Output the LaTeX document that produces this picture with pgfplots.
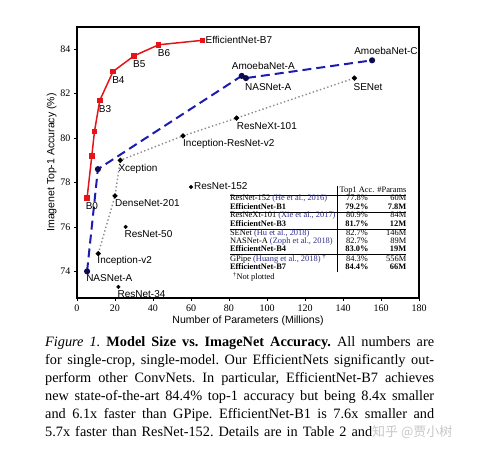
\documentclass[border=0pt]{standalone}
\usepackage{pgfplots}
\pgfplotsset{compat=1.18}
\usepackage{fontspec}
\setmainfont{Liberation Serif}
\setsansfont{Liberation Sans}
\newfontfamily\cjk{Noto Sans CJK SC}
\definecolor{effred}{RGB}{228,20,24}
\definecolor{navy}{RGB}{28,28,175}
\definecolor{navymark}{RGB}{12,12,80}
\definecolor{citeblue}{RGB}{45,45,140}
\newcommand{\lblfont}{\sffamily\fontsize{10}{12}\selectfont}
\newcommand{\lab}[5]{\node[anchor=west,inner sep=0,font=\lblfont,xshift=#3,yshift=#4] at (axis cs:#1,#2) {#5};}
\frenchspacing
\begin{document}
\begin{tikzpicture}[x=1pt,y=1pt]
\path[use as bounding box] (-77,-158) rectangle (400,298);
\begin{axis}[
  at={(0,0)}, anchor=south west,
  scale only axis, width=342pt, height=271pt,
  xmin=0, xmax=180, ymin=72.8, ymax=85,
  xtick={0,20,...,180}, ytick={74,76,...,84},
  tick align=outside, xtick pos=bottom, ytick pos=left,
  major tick length=3pt,
  axis line style={line width=1.1pt},
  every tick/.style={black, line width=0.8pt},
  tick label style={font=\rmfamily\fontsize{10}{12}\selectfont},
  /pgf/number format/assume math mode=true,
  xlabel={Number of Parameters (Millions)},
  ylabel={Imagenet Top-1 Accuracy (\%)},
  label style={font=\sffamily\fontsize{10.5}{12}\selectfont},
  xlabel style={yshift=2pt},
  ylabel style={yshift=-3pt},
  clip=false,
]
\addplot[black!45, line width=1.4pt, dash pattern=on 1.4pt off 2.4pt, mark=*, mark size=1.8pt, mark options={solid, black}]
  coordinates {(11.2,74.8)(20,77.4)(22.8,79.0)(55.8,80.1)(84,80.9)(146,82.7)};
\addplot[only marks, mark=*, mark size=1.8pt, black]
  coordinates {(60,77.8)(25.6,76.0)(21.8,73.3)};
\addplot[navy, line width=2pt, dash pattern=on 9pt off 5pt, mark=*, mark size=2pt, mark options={solid, fill=navymark, draw=navymark}]
  coordinates {(5.3,74.0)(11,78.6)(86.7,82.8)(88.9,82.7)(155.3,83.5)};
\addplot[effred, line width=1.5pt, mark=square*, mark size=2pt]
  coordinates {(5.3,77.3)(7.8,79.2)(9.2,80.3)(12,81.7)(19,83.0)(30,83.7)(43,84.2)(66,84.4)};

\lab{66}{84.4}{3pt}{0pt}{EfficientNet-B7}
\lab{43}{84.2}{-1pt}{-8.5pt}{B6}
\lab{30}{83.7}{-1pt}{-8.5pt}{B5}
\lab{19}{83.0}{-1pt}{-8.5pt}{B4}
\lab{12}{81.7}{-1pt}{-8.5pt}{B3}
\lab{5.3}{77.3}{-1.5pt}{-8.5pt}{B0}
\lab{155.3}{83.5}{-18pt}{9pt}{AmoebaNet-C}
\lab{86.7}{82.8}{-10pt}{10pt}{AmoebaNet-A}
\lab{88.9}{82.7}{-1pt}{-8.5pt}{NASNet-A}
\lab{146}{82.7}{-1pt}{-8.5pt}{SENet}
\lab{84}{80.9}{0pt}{-8.4pt}{ResNeXt-101}
\lab{55.8}{80.1}{0pt}{-7.7pt}{Inception-ResNet-v2}
\lab{22.8}{79.0}{-2pt}{-8.4pt}{Xception}
\lab{20}{77.4}{0pt}{-7.5pt}{DenseNet-201}
\lab{25.6}{76.0}{-1.3pt}{-7pt}{ResNet-50}
\lab{11.2}{74.8}{-1pt}{-7pt}{Inception-v2}
\lab{5.3}{74.0}{-1pt}{-6.5pt}{NASNet-A}
\lab{21.8}{73.3}{-1pt}{-7.6pt}{ResNet-34}
\lab{60}{77.8}{3pt}{1pt}{ResNet-152}

\node[anchor=north west, inner sep=0, font=\rmfamily\fontsize{8.4}{8.3}\selectfont] at (rel axis cs:0.447,0.413) {%
\setlength{\tabcolsep}{2pt}\renewcommand{\arraystretch}{1}%
\begin{tabular}{@{}l|c@{\hspace{3pt}}r@{}}
 & Top1 Acc. & \#Params\\ \hline
ResNet-152 {\color{citeblue}(He et al., 2016)} & 77.8\% & 60M\\
\textbf{EfficientNet-B1} & \textbf{79.2\%} & \textbf{7.8M}\\ \hline
ResNeXt-101 {\color{citeblue}(Xie et al., 2017)} & 80.9\% & 84M\\
\textbf{EfficientNet-B3} & \textbf{81.7\%} & \textbf{12M}\\ \hline
SENet {\color{citeblue}(Hu et al., 2018)} & 82.7\% & 146M\\
NASNet-A {\color{citeblue}(Zoph et al., 2018)} & 82.7\% & 89M\\
\textbf{EfficientNet-B4} & \textbf{83.0\%} & \textbf{19M}\\ \hline
GPipe {\color{citeblue}(Huang et al., 2018)} \textsuperscript{\textdagger} & 84.3\% & 556M\\
\textbf{EfficientNet-B7} & \textbf{84.4\%} & \textbf{66M}\\
\multicolumn{3}{@{}l}{\hspace{3pt}\textsuperscript{\textdagger}Not plotted}
\end{tabular}};
\end{axis}

\node[anchor=north west, inner sep=0, align=left, font=\rmfamily\fontsize{14.3}{18}\selectfont] at (-32,-38) {%
\makebox[389pt][s]{\textit{Figure 1.} \textbf{Model Size vs. ImageNet Accuracy.} All numbers are}\\
\makebox[389pt][s]{for single-crop, single-model. Our EfficientNets significantly out-}\\
\makebox[389pt][s]{perform other ConvNets. In particular, EfficientNet-B7 achieves}\\
\makebox[389pt][s]{new state-of-the-art 84.4\% top-1 accuracy but being 8.4x smaller}\\
\makebox[389pt][s]{and 6.1x faster than GPipe. EfficientNet-B1 is 7.6x smaller and}\\
\makebox[327pt][s]{5.7x faster than ResNet-152. Details are in Table 2 and}{\color{black!22}\cjk\fontsize{13}{18}\selectfont 知乎 @贾小树}};
\end{tikzpicture}
\end{document}
